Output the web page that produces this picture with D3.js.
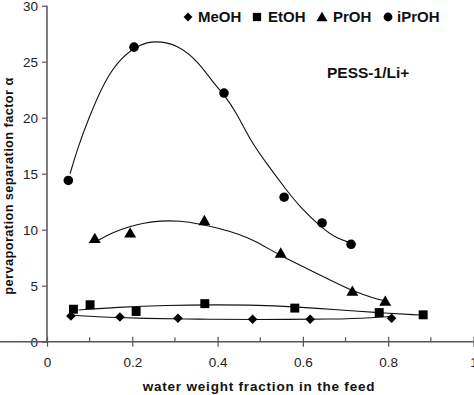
<!DOCTYPE html>
<html><head><meta charset="utf-8">
<script src="https://cdn.jsdelivr.net/npm/d3@7/dist/d3.min.js"></script>
<style>body{margin:0;background:#fff}svg{display:block}text{font-family:"Liberation Sans",Arial,sans-serif}</style>
</head><body>
<script>
// ---- data ----
const seriesNames = ["MeOH", "EtOH", "PrOH", "iPrOH"];
const meohX = [0.056, 0.171, 0.307, 0.482, 0.617, 0.808];
const meohY = [2.3, 2.2, 2.1, 2.0, 2.0, 2.1];
const etohX = [0.062, 0.101, 0.209, 0.370, 0.581, 0.779, 0.882];
const etohY = [2.9, 3.3, 2.7, 3.4, 3.0, 2.6, 2.4];
const prohX = [0.112, 0.195, 0.369, 0.548, 0.716, 0.793];
const prohY = [9.2, 9.7, 10.8, 7.9, 4.5, 3.6];
const iprohX = [0.050, 0.204, 0.415, 0.556, 0.645, 0.713];
const iprohY = [14.4, 26.3, 22.2, 12.9, 10.6, 8.7];
// trend lines
const meohTrendX = [0.054, 0.109, 0.163, 0.218, 0.359, 0.476, 0.687, 0.765, 0.804];
const meohTrendY = [2.38, 2.23, 2.16, 2.09, 2.0, 1.98, 2.0, 2.15, 2.25];
const etohTrendX = [0.074, 0.163, 0.28, 0.40, 0.50, 0.57, 0.687, 0.765, 0.875];
const etohTrendY = [2.83, 3.07, 3.26, 3.3, 3.26, 3.13, 2.85, 2.62, 2.38];
const prohTrendX = [0.117, 0.156, 0.195, 0.226, 0.265, 0.312, 0.359, 0.406, 0.45, 0.484, 0.546, 0.609, 0.664, 0.718, 0.765, 0.797];
const prohTrendY = [9.0, 9.8, 10.3, 10.6, 10.8, 10.8, 10.5, 10.1, 9.6, 9.1, 7.7, 6.55, 5.5, 4.5, 3.9, 3.6];
const iprohTrendX = [0.054, 0.073, 0.097, 0.136, 0.175, 0.214, 0.253, 0.308, 0.355, 0.394, 0.413, 0.445, 0.476, 0.515, 0.562, 0.593, 0.64, 0.679, 0.714];
const iprohTrendY = [15.0, 17.4, 19.9, 23.4, 25.4, 26.5, 26.9, 26.5, 25.0, 22.9, 22.2, 20.4, 18.0, 15.9, 13.5, 12.05, 10.3, 9.2, 8.8];
const xTicks = [0, 0.2, 0.4, 0.6, 0.8, 1];
const xMinorTicks = [0.1, 0.3, 0.5, 0.7, 0.9];
const yTicks = [0, 5, 10, 15, 20, 25, 30];
const xTitle = "water weight fraction in the feed";
const yTitle = "pervaporation separation factor α";
const annotation = "PESS-1/Li+";

const W = 474, H = 395;
const svg = d3.select("body").append("svg").attr("width", W).attr("height", H);
const x = d3.scaleLinear().domain([0, 1]).range([47, 473.5]);
const y = d3.scaleLinear().domain([0, 30]).range([341.7, 5.7]);
const axisCol = "#555";

// axes
const yAxis = svg.append("g").attr("transform", `translate(${x(0)},0)`)
  .call(d3.axisLeft(y).tickValues(yTicks).tickSize(5).tickPadding(4).tickFormat(d3.format("d")));
const xAxis = svg.append("g").attr("transform", `translate(0,${y(0)})`)
  .call(d3.axisBottom(x).tickValues(xTicks).tickSize(5).tickPadding(11).tickFormat(d => d === 0 || d === 1 ? d : d3.format(".1f")(d)));
[yAxis, xAxis].forEach(g => {
  g.select(".domain").attr("stroke", axisCol).attr("stroke-width", 1.5);
  g.selectAll(".tick line").attr("stroke", axisCol).attr("stroke-width", 1.2);
  g.selectAll(".tick text").attr("font-size", 13.5).attr("fill", "#222").attr("font-family", "Liberation Sans, Arial, sans-serif");
});
yAxis.select(".domain").attr("d", `M0,${y(30)}V${y(0)}`);
xAxis.select(".domain").attr("d", `M0,0H${x(1)}`);
// major x ticks cross the axis
xAxis.selectAll(".tick line").attr("y1", -5).attr("y2", 5);
// minor ticks inside
xAxis.selectAll(".minor").data(xMinorTicks).enter().append("line")
  .attr("x1", d => x(d)).attr("x2", d => x(d)).attr("y1", -4.5).attr("y2", 0)
  .attr("stroke", axisCol).attr("stroke-width", 1.2);

// titles
svg.append("text").attr("x", 259).attr("y", 391).attr("text-anchor", "middle")
  .attr("font-size", 13.5).attr("font-weight", "bold").attr("letter-spacing", 0.8).attr("fill", "#111").text(xTitle);
svg.append("text").attr("transform", "translate(13,186) rotate(-90)").attr("text-anchor", "middle")
  .attr("font-size", 12.8).attr("font-weight", "bold").attr("letter-spacing", 0.4).attr("fill", "#111").text(yTitle);
svg.append("text").attr("x", 327).attr("y", 78).attr("font-size", 15.5).attr("font-weight", "bold").attr("fill", "#111").text(annotation);

// lines
const line = d3.line().x(d => x(d[0])).y(d => y(d[1])).curve(d3.curveBasis);
const zip = (a, b) => a.map((v, i) => [v, b[i]]);
const trends = [[meohTrendX, meohTrendY], [etohTrendX, etohTrendY], [prohTrendX, prohTrendY], [iprohTrendX, iprohTrendY]];
trends.forEach(t => svg.append("path").attr("d", line(zip(t[0], t[1]))).attr("fill", "none").attr("stroke", "#111").attr("stroke-width", 1.1));

// markers
const symbols = [
  {type: d3.symbolSquare, size: 46, rot: 45},
  {type: d3.symbolSquare, size: 80, rot: 0},
  {type: d3.symbolTriangle, size: 62, rot: 0},
  {type: d3.symbolCircle, size: 72, rot: 0}
];
const pts = [[meohX, meohY], [etohX, etohY], [prohX, prohY], [iprohX, iprohY]];
pts.forEach((p, i) => {
  const s = symbols[i];
  svg.append("g").selectAll("path").data(zip(p[0], p[1])).enter().append("path")
    .attr("d", d3.symbol().type(s.type).size(s.size))
    .attr("transform", d => `translate(${x(d[0])},${y(d[1]) + (i === 2 ? 1 : 0)}) rotate(${s.rot})`)
    .attr("fill", "#000");
});

// legend
const legX = [188, 257, 322, 388];
const legTextX = [198, 268, 333, 397];
seriesNames.forEach((n, i) => {
  const s = symbols[i];
  svg.append("path").attr("d", d3.symbol().type(s.type).size(s.size * 0.85))
    .attr("transform", `translate(${legX[i]},${17 + (i === 2 ? 1 : 0)}) rotate(${s.rot})`).attr("fill", "#000");
  svg.append("text").attr("x", legTextX[i]).attr("y", 22).attr("font-size", 15).attr("font-weight", "bold").attr("fill", "#111").text(n);
});
</script>
</body></html>
